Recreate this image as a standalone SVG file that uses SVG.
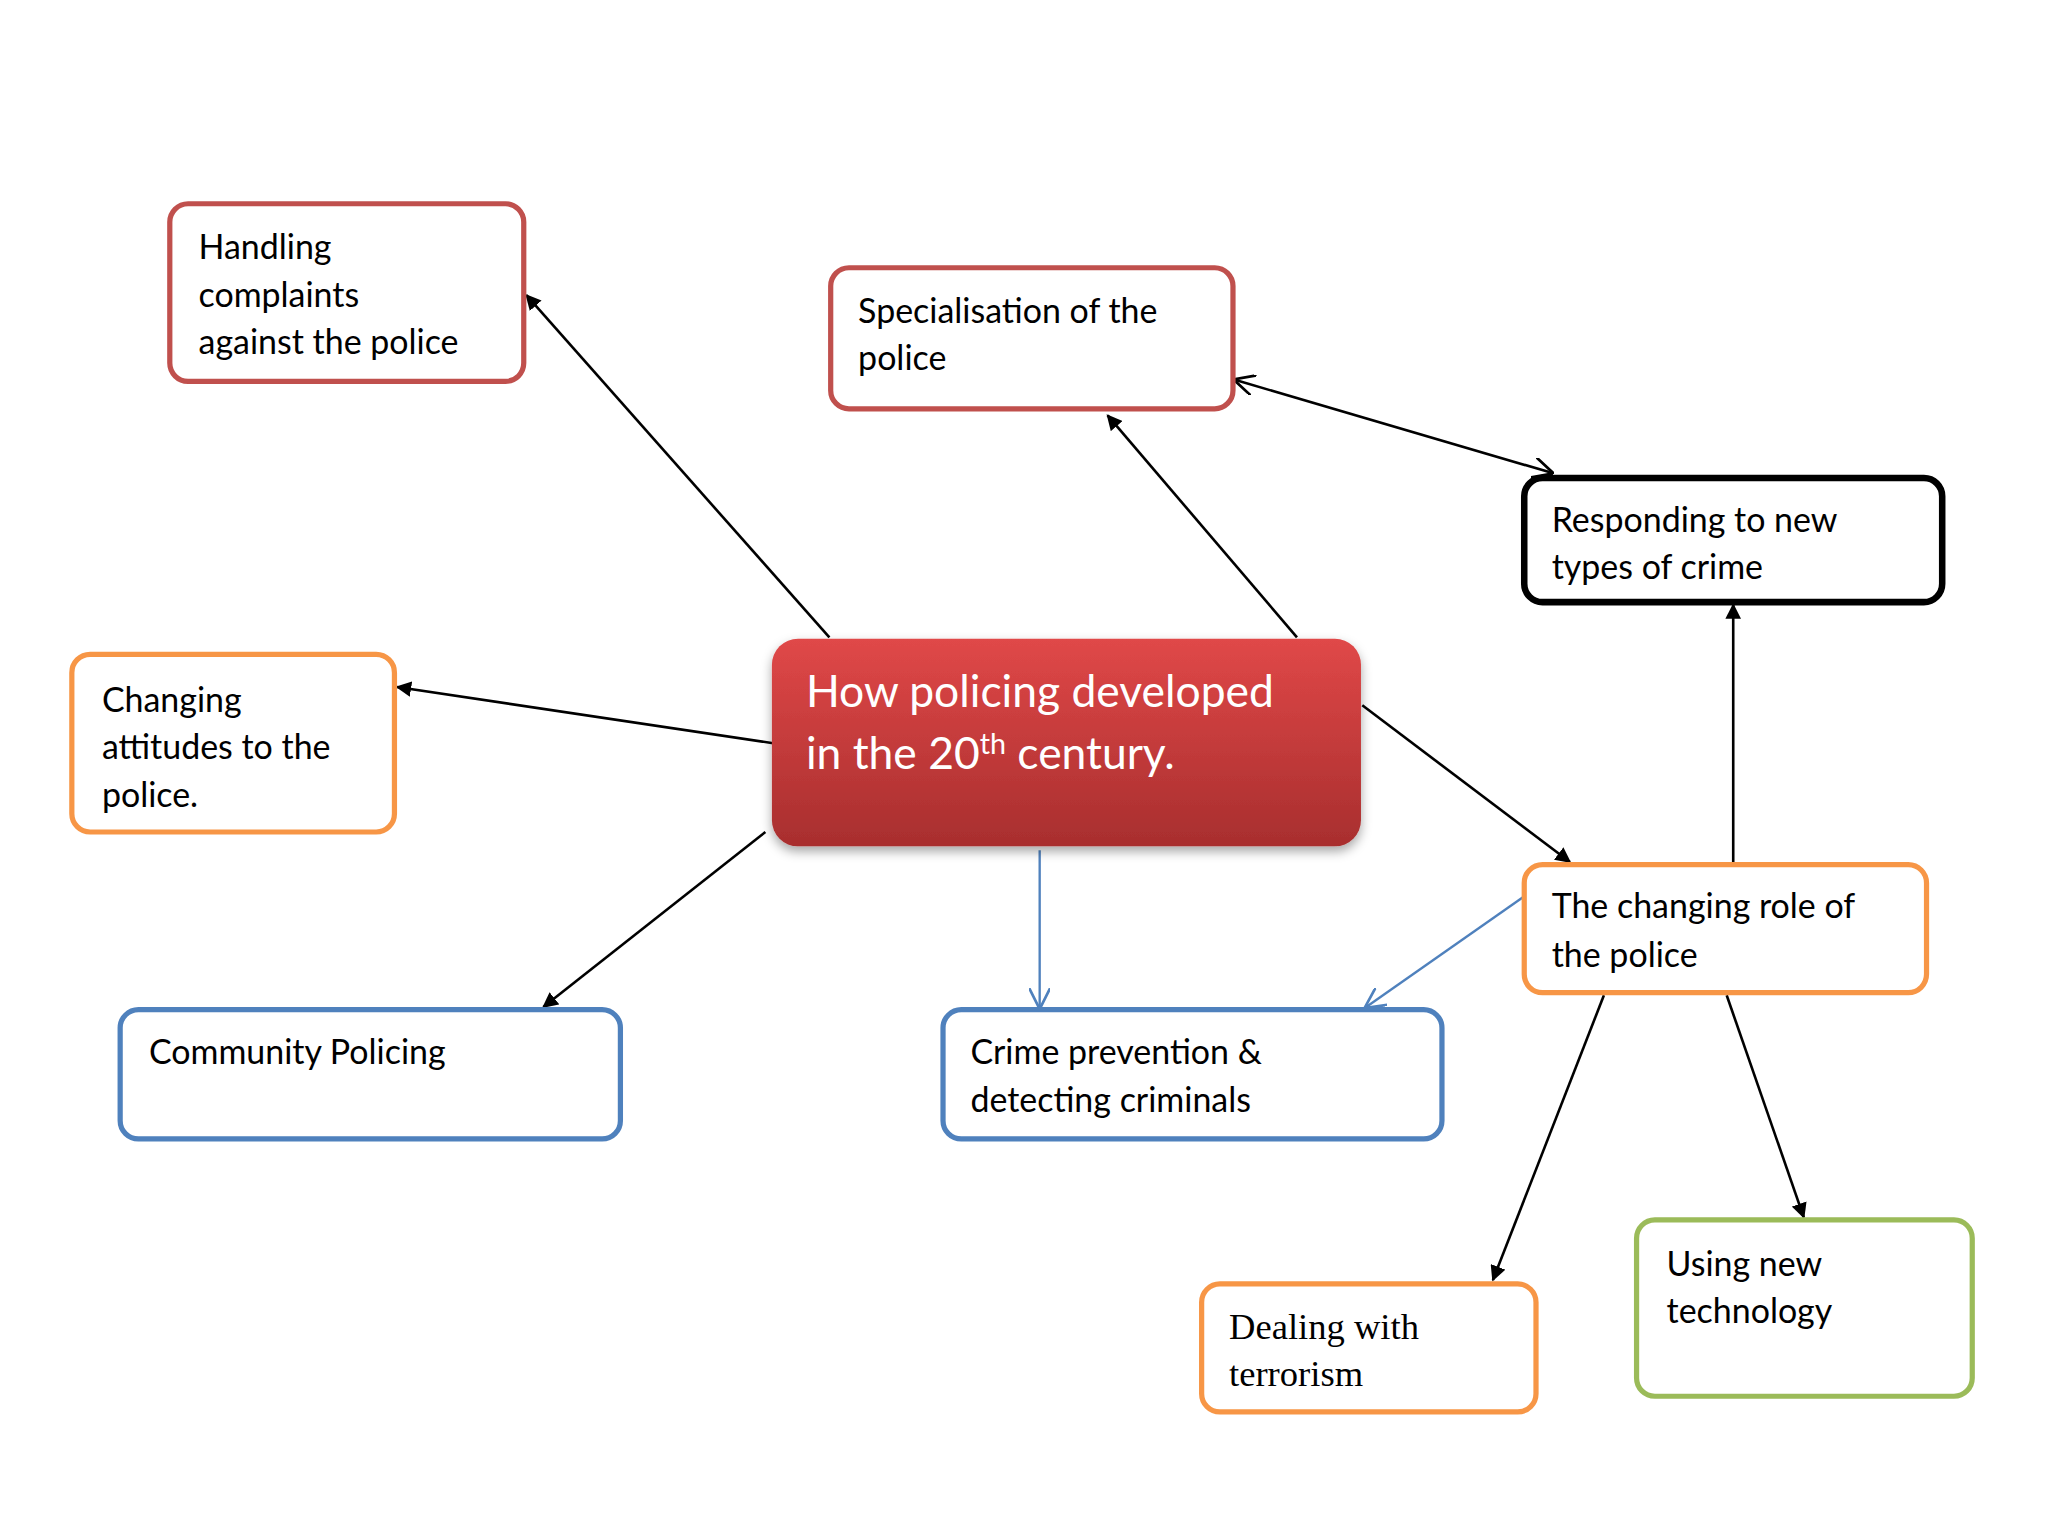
<svg xmlns="http://www.w3.org/2000/svg" width="2048" height="1536" viewBox="0 0 2048 1536">
<defs>
<style>
.box{fill:#fff;stroke-width:4}
.red{stroke:#C0504D}.org{stroke:#F79646}.blu{stroke:#4F81BD}.grn{stroke:#9BBB59}.blk{stroke:#000;stroke-width:5}
text{font-family:Lato,"Open Sans","Liberation Sans",sans-serif;font-size:26px;fill:#000}
.c{stroke:#000;stroke-width:2;fill:none}
.b{stroke:#4F81BD;stroke-width:1.8;fill:none}
</style>
<linearGradient id="g" x1="0" y1="0" x2="0" y2="1">
<stop offset="0" stop-color="#E04848"/><stop offset="1" stop-color="#A82E2E"/>
</linearGradient>
<filter id="sh" x="-10%" y="-10%" width="120%" height="130%"><feDropShadow dx="0" dy="4" stdDeviation="4" flood-opacity="0.35"/></filter>
<marker id="a" viewBox="0 0 10 10" refX="9" refY="5" markerWidth="12" markerHeight="12" markerUnits="userSpaceOnUse" orient="auto"><path d="M0,0L10,5L0,10z" fill="#000"/></marker>
<marker id="o" viewBox="0 0 10 10" refX="9" refY="5" markerWidth="16" markerHeight="16" markerUnits="userSpaceOnUse" orient="auto-start-reverse"><path d="M0,0L10,5L0,10" fill="none" stroke="#000" stroke-width="1.3"/></marker>
<marker id="ob" viewBox="0 0 10 10" refX="9" refY="5" markerWidth="16" markerHeight="16" markerUnits="userSpaceOnUse" orient="auto"><path d="M0,0L10,5L0,10" fill="none" stroke="#4F81BD" stroke-width="1.3"/></marker>
</defs>
<rect width="2048" height="1536" fill="#fff"/>
<g transform="scale(1.30612)">
<g id="connectors">
<line class="c" x1="635" y1="488" x2="403" y2="226" marker-end="url(#a)"/>
<line class="c" x1="993" y1="488" x2="848" y2="318" marker-end="url(#a)"/>
<line class="c" x1="1188" y1="362" x2="946" y2="291" marker-start="url(#o)" marker-end="url(#o)"/>
<line class="c" x1="592" y1="569" x2="304" y2="526" marker-end="url(#a)"/>
<line class="c" x1="1043" y1="540" x2="1202" y2="660" marker-end="url(#a)"/>
<line class="c" x1="586" y1="637" x2="416" y2="771" marker-end="url(#a)"/>
<line class="b" x1="796" y1="651" x2="796" y2="771" marker-end="url(#ob)"/>
<line class="b" x1="1166" y1="687" x2="1046" y2="771" marker-end="url(#ob)"/>
<line class="c" x1="1327" y1="660" x2="1327" y2="463" marker-end="url(#a)"/>
<line class="c" x1="1228" y1="762" x2="1143" y2="980" marker-end="url(#a)"/>
<line class="c" x1="1322" y1="762" x2="1381" y2="932" marker-end="url(#a)"/>
</g>
<g id="central"><rect x="591" y="489" width="451" height="159" rx="20" fill="url(#g)" filter="url(#sh)"/>
<text x="617" y="541" style="font-size:34px;fill:#fff">How policing developed</text>
<text x="617" y="589" style="font-size:34px;fill:#fff">in the 20<tspan dy="-12" style="font-size:22px">th</tspan><tspan dy="12"> century.</tspan></text></g>
<g id="handling"><rect class="box red" x="130" y="156" width="271" height="136" rx="14"/>
<text x="152" y="198">Handling</text><text x="152" y="235">complaints</text><text x="152" y="271">against the police</text></g>
<g id="specialisation"><rect class="box red" x="636" y="205" width="308" height="108" rx="14"/>
<text x="657" y="247">Specialisation of the</text><text x="657" y="283">police</text></g>
<g id="responding"><rect class="box blk" x="1167" y="366" width="320" height="95" rx="14"/>
<text x="1188" y="407">Responding to new</text><text x="1188" y="443">types of crime</text></g>
<g id="attitudes"><rect class="box org" x="55" y="501" width="247" height="136" rx="14"/>
<text x="78" y="545">Changing</text><text x="78" y="581">attitudes to the</text><text x="78" y="618">police.</text></g>
<g id="role"><rect class="box org" x="1167" y="662" width="308" height="98" rx="14"/>
<text x="1188" y="703">The changing role of</text><text x="1188" y="740">the police</text></g>
<g id="community"><rect class="box blu" x="92" y="773" width="383" height="99" rx="14"/>
<text x="114" y="815">Community Policing</text></g>
<g id="crime"><rect class="box blu" x="722" y="773" width="382" height="99" rx="14"/>
<text x="743" y="815">Crime prevention &amp;</text><text x="743" y="851">detecting criminals</text></g>
<g id="terrorism"><rect class="box org" x="920" y="983" width="256" height="98" rx="14"/>
<text x="941" y="1025" style="font-family:'Liberation Serif',serif;font-size:28px">Dealing with</text><text x="941" y="1061" style="font-family:'Liberation Serif',serif;font-size:28px">terrorism</text></g>
<g id="technology"><rect class="box grn" x="1253" y="934" width="257" height="135" rx="14"/>
<text x="1276" y="977">Using new</text><text x="1276" y="1013">technology</text></g>
</g>
</svg>
